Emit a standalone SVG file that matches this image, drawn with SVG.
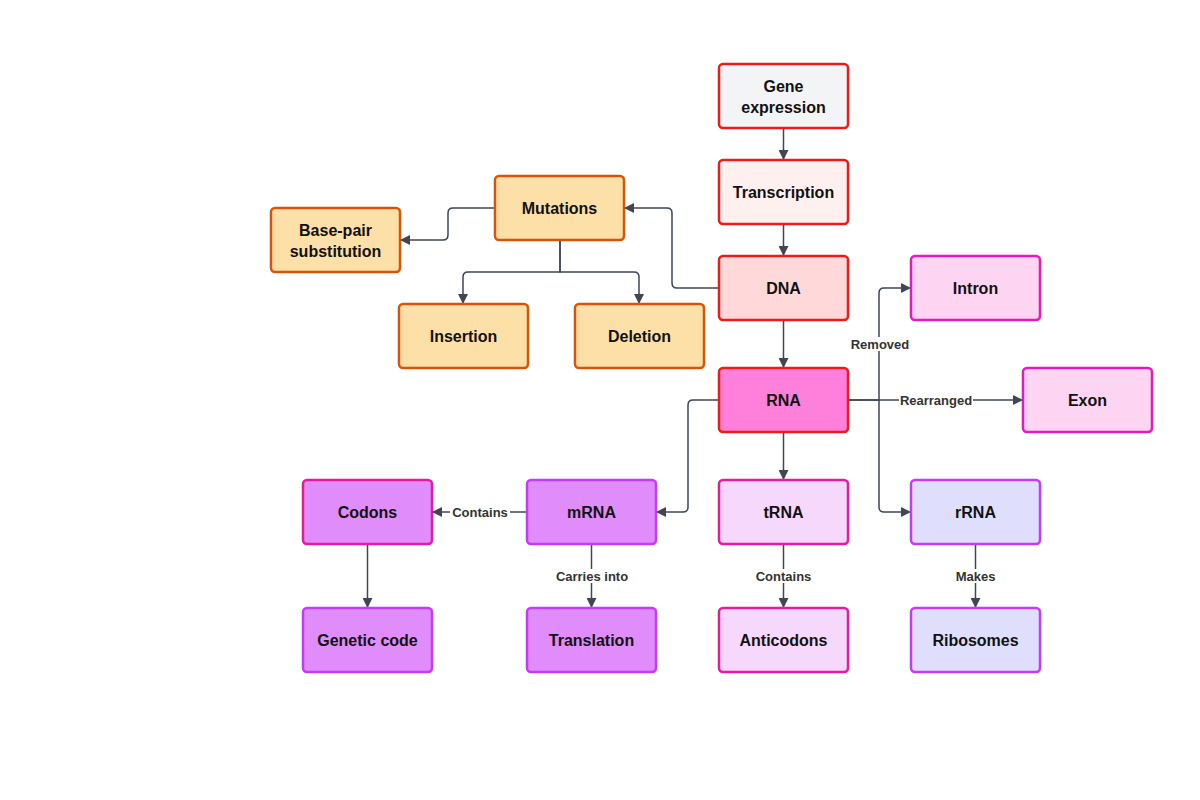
<svg xmlns="http://www.w3.org/2000/svg" width="1200" height="800" viewBox="0 0 1200 800">
<defs>
<marker id="arr" viewBox="0 0 10 10" refX="10" refY="5" markerWidth="10" markerHeight="10" markerUnits="userSpaceOnUse" orient="auto">
<path d="M0,0 L10,5 L0,10 z" fill="#3f4754"/>
</marker>
<style>
.n rect{stroke-width:2.5}
.n text{font-family:"Liberation Sans",Arial,sans-serif;font-weight:bold;font-size:16px;fill:#111;text-anchor:middle;dominant-baseline:central}
.red rect{stroke:#ee1a1a}
.org rect{fill:#fde0a8;stroke:#d4540c}
.pk rect{fill:#fdd5f3;stroke:#e21cb4}
.pur rect{stroke:#c03cf5}
.mag rect{stroke:#e21c9c}
#connectors path{fill:none;stroke:#3f4754;stroke-width:1.5;marker-end:url(#arr)}
.lbl rect{fill:#ffffff}
.lbl text{font-family:"Liberation Sans",Arial,sans-serif;font-weight:bold;font-size:13px;fill:#333;text-anchor:middle;dominant-baseline:central}
</style>
</defs>
<rect width="1200" height="800" fill="#ffffff"/>
<g id="connectors">
<path d="M783.5,128 V160"/>
<path d="M783.5,224 V256"/>
<path d="M783.5,320 V368"/>
<path d="M719,288 H677 Q672,288 672,283 V213 Q672,208 667,208 H624"/>
<path d="M495,208 H453 Q448,208 448,213 V235 Q448,240 443,240 H400"/>
<path d="M560,240 V272 H468 Q463,272 463,277 V304"/>
<path d="M560,240 V272 H634 Q639,272 639,277 V304"/>
<path d="M719,400 H693 Q688,400 688,405 V507 Q688,512 683,512 H656"/>
<path d="M783.5,432 V480"/>
<path d="M848,400 H879 V293 Q879,288 884,288 H911"/>
<path d="M848,400 H1023"/>
<path d="M879,400 V507 Q879,512 884,512 H911"/>
<path d="M527,512 H432"/>
<path d="M591.5,544 V608"/>
<path d="M367.5,544 V608"/>
<path d="M783.5,544 V608"/>
<path d="M975.5,544 V608"/>
</g>
<g id="labels">
<g class="lbl"><rect x="848" y="337" width="64" height="14"/><text x="880" y="344">Removed</text></g>
<g class="lbl"><rect x="899" y="393" width="74" height="14"/><text x="936" y="400">Rearranged</text></g>
<g class="lbl"><rect x="450" y="505" width="60" height="14"/><text x="480" y="512">Contains</text></g>
<g class="lbl"><rect x="552" y="569" width="80" height="14"/><text x="592" y="576">Carries into</text></g>
<g class="lbl"><rect x="753" y="569" width="61" height="14"/><text x="783.5" y="576">Contains</text></g>
<g class="lbl"><rect x="953" y="569" width="45" height="14"/><text x="975.5" y="576">Makes</text></g>
</g>
<g id="gene-expression" class="n red"><rect x="719" y="64" width="129" height="64" rx="4" fill="#f3f4f6"/><text x="783.5" y="86">Gene</text><text x="783.5" y="107">expression</text></g>
<g id="transcription" class="n red"><rect x="719" y="160" width="129" height="64" rx="4" fill="#fff0f0"/><text x="783.5" y="192">Transcription</text></g>
<g id="dna" class="n red"><rect x="719" y="256" width="129" height="64" rx="4" fill="#ffd8da"/><text x="783.5" y="288">DNA</text></g>
<g id="rna" class="n red"><rect x="719" y="368" width="129" height="64" rx="4" fill="#ff80da"/><text x="783.5" y="400">RNA</text></g>
<g id="mutations" class="n org"><rect x="495" y="176" width="129" height="64" rx="4"/><text x="559.5" y="208">Mutations</text></g>
<g id="base-pair" class="n org"><rect x="271" y="208" width="129" height="64" rx="4"/><text x="335.5" y="230">Base-pair</text><text x="335.5" y="251">substitution</text></g>
<g id="insertion" class="n org"><rect x="399" y="304" width="129" height="64" rx="4"/><text x="463.5" y="336">Insertion</text></g>
<g id="deletion" class="n org"><rect x="575" y="304" width="129" height="64" rx="4"/><text x="639.5" y="336">Deletion</text></g>
<g id="intron" class="n pk"><rect x="911" y="256" width="129" height="64" rx="4"/><text x="975.5" y="288">Intron</text></g>
<g id="exon" class="n pk"><rect x="1023" y="368" width="129" height="64" rx="4"/><text x="1087.5" y="400">Exon</text></g>
<g id="mrna" class="n pur"><rect x="527" y="480" width="129" height="64" rx="4" fill="#e08cfa"/><text x="591.5" y="512">mRNA</text></g>
<g id="codons" class="n mag"><rect x="303" y="480" width="129" height="64" rx="4" fill="#e08cfa"/><text x="367.5" y="512">Codons</text></g>
<g id="trna" class="n mag"><rect x="719" y="480" width="129" height="64" rx="4" fill="#f5d8fb"/><text x="783.5" y="512">tRNA</text></g>
<g id="rrna" class="n pur"><rect x="911" y="480" width="129" height="64" rx="4" fill="#dfdffd"/><text x="975.5" y="512">rRNA</text></g>
<g id="genetic-code" class="n pur"><rect x="303" y="608" width="129" height="64" rx="4" fill="#e08cfa"/><text x="367.5" y="640">Genetic code</text></g>
<g id="translation" class="n pur"><rect x="527" y="608" width="129" height="64" rx="4" fill="#e08cfa"/><text x="591.5" y="640">Translation</text></g>
<g id="anticodons" class="n mag"><rect x="719" y="608" width="129" height="64" rx="4" fill="#f5d8fb"/><text x="783.5" y="640">Anticodons</text></g>
<g id="ribosomes" class="n pur"><rect x="911" y="608" width="129" height="64" rx="4" fill="#dfdffd"/><text x="975.5" y="640">Ribosomes</text></g>
</svg>
